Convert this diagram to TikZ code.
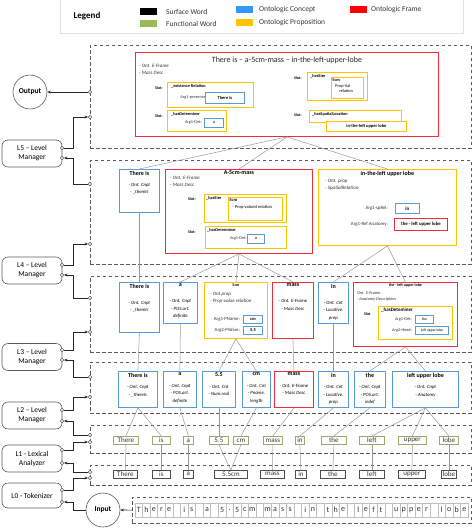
\documentclass[tikz,border=0pt]{standalone}
\usepackage{fontspec}
\setmainfont{Carlito}
\usetikzlibrary{calc,arrows.meta}

\definecolor{cblue}{RGB}{91,155,213}
\definecolor{cred}{RGB}{232,48,58}
\definecolor{cyellow}{RGB}{255,196,0}
\definecolor{cgreen}{RGB}{150,172,110}
\definecolor{cgray}{RGB}{90,90,90}
\definecolor{legreen}{RGB}{155,187,89}
\definecolor{leblue}{RGB}{51,153,255}

\tikzstyle{panel} = [rectangle, draw=cgray, dash pattern=on 3.5pt off 2.5pt, line width=0.7pt, anchor=north west, inner sep=0pt]
\tikzstyle{manager} = [rectangle, rounded corners=6pt, draw=cgray, line width=0.6pt, minimum width=60pt, minimum height=27pt, align=center, font=\fontsize{7.5}{9}\selectfont]
\tikzstyle{port} = [circle, draw=cgray, fill=white, line width=0.5pt, minimum size=3.4pt, inner sep=0pt]
\tikzstyle{flow} = [draw=black!85, line width=0.6pt, -{Stealth[length=3.5pt,width=2.8pt]}]
\tikzstyle{link} = [draw=black!40, line width=0.5pt]
\tikzstyle{concept} = [rectangle, draw=cblue, line width=0.8pt, fill=white, inner sep=0pt, anchor=north west, font=\bfseries\fontsize{4.5}{5}\selectfont]
\tikzstyle{frame} = [concept, draw=cred, line width=0.9pt]
\tikzstyle{prop} = [concept, draw=cyellow, line width=0.9pt]
\tikzstyle{funcword} = [rectangle, draw=cgreen, line width=0.8pt, anchor=north west, inner sep=0pt, text=black!80, font=\fontsize{7}{8}\selectfont]
\tikzstyle{surfword} = [funcword, draw=black!70]
\tikzstyle{desc} = [anchor=north west, align=left, inner sep=0pt, text=black!80, font=\itshape\fontsize{5}{7}\selectfont]
\tikzstyle{slotlab} = [anchor=west, inner sep=0pt, font=\bfseries\fontsize{4}{5}\selectfont]
\tikzstyle{ptitle} = [anchor=north west, inner sep=0pt, font=\bfseries\fontsize{4.3}{5}\selectfont]
\tikzstyle{arglab} = [anchor=east, inner sep=0pt, text=black!80, font=\fontsize{4.3}{5}\selectfont]
\tikzstyle{swatch} = [rectangle, minimum width=17pt, minimum height=7pt, inner sep=0pt, anchor=north west]
\tikzstyle{legtext} = [anchor=west, inner sep=0pt, text=black!80, font=\fontsize{7.5}{9}\selectfont]
\tikzstyle{cell} = [rectangle, draw=black!25, line width=0.5pt, minimum width=7.57pt, minimum height=14pt, inner sep=0pt, text=black!80, font=\fontsize{8}{9}\selectfont]

\newcommand\boxtext[3]{\parbox[c][#2][t]{#1}{\centering\vspace*{1.5pt}#3}}
\newcommand\ttl{\bfseries\fontsize{6}{7}\selectfont}
\newcommand\dsc{\mdseries\itshape\fontsize{4.8}{7.5}\selectfont}

\begin{document}
\begin{tikzpicture}[x=1pt, y=-1pt]
    \useasboundingbox (0,0) rectangle (474,528);

    % legend
    \node (legendbox) [rectangle, draw=black!12, line width=1pt, anchor=north west, minimum width=403pt, minimum height=35pt] at (60,-2) {};
    \node (legendtitle) [font=\bfseries\fontsize{9}{10}\selectfont] at (87,16) {Legend};
    \node (swsurf) [swatch, fill=black] at (140,8) {};
    \node (txsurf) [legtext] at (166,11.5) {Surface Word};
    \node (swfunc) [swatch, fill=legreen] at (140,20) {};
    \node (txfunc) [legtext] at (166,23.5) {Functional Word};
    \node (swcpt) [swatch, fill=leblue] at (236,6) {};
    \node (txcpt) [legtext] at (259,9.5) {Ontologic Concept};
    \node (swprop) [swatch, fill=cyellow] at (236,19) {};
    \node (txprop) [legtext] at (259,22.5) {Ontologic Proposition};
    \node (swfrm) [swatch, fill=red] at (350,6) {};
    \node (txfrm) [legtext] at (371,9.5) {Ontologic Frame};

    % level panels
    \node (panel1) [panel, minimum width=381pt, minimum height=103pt] at (90,45) {};
    \node (panel2) [panel, minimum width=381pt, minimum height=104pt] at (90,160) {};
    \node (panel3) [panel, minimum width=381pt, minimum height=76pt] at (90,276) {};
    \node (panel4) [panel, minimum width=381pt, minimum height=51pt] at (90,362) {};
    \node (panel5) [panel, minimum width=381pt, minimum height=28pt] at (90,425) {};
    \node (panel6) [panel, minimum width=381pt, minimum height=20pt] at (90,465) {};
    \node (panelin) [panel, minimum width=339pt, minimum height=26pt] at (132,497) {};

    % managers
    \node (output) [circle, draw=cgray, line width=0.6pt, minimum size=34pt, inner sep=0pt, font=\bfseries\fontsize{7.5}{9}\selectfont] at (30,92) {Output};
    \node (input) [circle, draw=cgray, line width=0.6pt, minimum size=34pt, inner sep=0pt, font=\bfseries\fontsize{7.5}{9}\selectfont] at (103,510) {Input};
    \node (l5) [manager] at (32,153.5) {L5 – Level\\Manager};
    \node (l4) [manager] at (32,270.5) {L4 – Level\\Manager};
    \node (l3) [manager] at (32,357) {L3 – Level\\Manager};
    \node (l2) [manager] at (32,415.5) {L2 – Level\\Manager};
    \node (l1) [manager] at (32,458.5) {L1 - Lexical\\Analyzer};
    \node (l0) [manager, minimum height=25pt] at (32,495.5) {L0 - Tokenizer};

    % ports
    \node (l5out) [port] at (62,148) {};
    \node (l5in) [port] at (62,158) {};
    \node (l4out) [port] at (62,265) {};
    \node (l4in) [port] at (62,275) {};
    \node (l3out) [port] at (62,350) {};
    \node (l3in) [port] at (62,360) {};
    \node (l2out) [port] at (62,410) {};
    \node (l2in) [port] at (62,421) {};
    \node (l1out) [port] at (62,450) {};
    \node (l1in) [port] at (62,463) {};
    \node (l0out) [port] at (62,490) {};
    \node (l0in) [port] at (62,502) {};
    \node (p1out) [port] at (90,92) {};
    \node (p1l5) [port] at (90,117) {};
    \node (p2l5) [port] at (90,184) {};
    \node (p2l4) [port] at (90,244) {};
    \node (p3l4) [port] at (90,298) {};
    \node (p3l3) [port] at (90,332) {};
    \node (p4l3) [port] at (90,377) {};
    \node (p4l2) [port] at (90,397) {};
    \node (p5l2) [port] at (90,435) {};
    \node (p5l1) [port] at (90,442) {};
    \node (p6l1) [port] at (90,472) {};
    \node (p6l0) [port] at (90,478) {};

    \draw [flow] (p1out) -- (output);
    \draw [flow] (l5out) -- ++(11,0) |- (p1l5);
    \draw [flow] (p2l5) -- ++(-17,0) |- (l5in);
    \draw [flow] (l4out) -- ++(11,0) |- (p2l4);
    \draw [flow] (p3l4) -- ++(-17,0) |- (l4in);
    \draw [flow] (l3out) -- ++(11,0) |- (p3l3);
    \draw [flow] (p4l3) -- ++(-17,0) |- (l3in);
    \draw [flow] (l2out) -- ++(11,0) |- (p4l2);
    \draw [flow] (p5l2) -- ++(-17,0) |- (l2in);
    \draw [flow] (l1out) -- ++(11,0) |- (p5l1);
    \draw [flow] (p6l1) -- ++(-17,0) |- (l1in);
    \draw [flow] (l0out) -- ++(11,0) |- (p6l0);
    \draw [flow] (input) -- ++(-30,0) |- (l0in);
    \draw [flow] (panelin) -- (input);

    % L5 output frame
    \node (outframe) [frame, minimum width=303pt, minimum height=84pt] at (135,52) {};
    \node (outtitle) [inner sep=0pt, text=black!85, font=\fontsize{8}{9}\selectfont] at (287,60) {There is – a-5cm-mass – in-the-left-upper-lobe};
    \node (outdesc) [desc] at (139,64) {- Ont. E-Frame\\- Mass Desc};
    \node (slotex) [slotlab] at (155,88) {Slot:};
    \node (propex) [prop, minimum width=86pt, minimum height=25pt] at (167,82) {};
    \node (propextitle) [ptitle] at (171,84) {\_existence Relation};
    \node (argex) [arglab] at (206,97.5) {Arg1-presence};
    \node (cptthere) [concept, minimum width=39pt, minimum height=11pt] at (205,92) {There is};
    \node (slotdet) [slotlab] at (155,116) {Slot:};
    \node (propdet) [prop, minimum width=59pt, minimum height=21pt] at (167,110) {};
    \node (propdettitle) [ptitle] at (171,112) {\_hasDeterminer};
    \node (argdet) [arglab] at (202,122.5) {Arg1-Det:};
    \node (cpta) [concept, minimum width=19pt, minimum height=9pt, font=\fontsize{4.5}{5}\selectfont] at (204,118) {a};
    \node (slotsize) [slotlab] at (294,78) {Slot:};
    \node (propsize) [prop, minimum width=60pt, minimum height=28pt] at (307,72) {};
    \node (propsizetitle) [ptitle] at (310,74) {\_hasSize};
    \node (propsizein) [prop, font=\fontsize{4.3}{5.5}\selectfont] at (331,77) {\boxtext{32pt}{21pt}{\raggedright\hspace*{1pt}\textbf{5cm}\\\mdseries\hspace*{4pt}Prop-Val\\\hspace*{8pt}relation}};
    \node (slotloc) [slotlab] at (294,115) {Slot:};
    \node (proploc) [prop, minimum width=92pt, minimum height=12pt] at (309,110) {};
    \node (proploctitle) [ptitle] at (312,112) {\_hasSpatialLocation};
    \node (cptloc) [prop, minimum width=80pt, minimum height=10pt] at (326,121) {in-the-left upper lobe};

    % L4 results
    \node (p2there) [concept] at (119,169) {\boxtext{40pt}{43pt}{\ttl There is\\[3.5pt]\dsc - Ont. Cnpt\\- \_thereIs}};
    \node (p2mass) [frame, minimum width=147pt, minimum height=84pt] at (165,169) {\boxtext{147pt}{84pt}{\ttl A-5cm-mass}};
    \node (p2massdesc) [desc] at (170,176) {- Ont. E-Frame\\- Mass Desc};
    \node (sl2size) [slotlab] at (188,199) {Slot:};
    \node (pr2size) [prop, minimum width=82pt, minimum height=28pt] at (204,194) {};
    \node (pr2sizetitle) [ptitle] at (206,196) {\_hasSize};
    \node (pr2sizein) [prop, font=\fontsize{4.5}{6}\selectfont] at (228,197) {\boxtext{54pt}{23pt}{\raggedright\hspace*{1pt}\textbf{5cm}\\[1pt]\mdseries\hspace*{4pt}- Prop-valued relation}};
    \node (sl2det) [slotlab] at (188,232) {Slot:};
    \node (pr2det) [prop, minimum width=81pt, minimum height=22pt] at (205,226) {};
    \node (pr2dettitle) [ptitle] at (207,228) {\_hasDeterminer};
    \node (arg2det) [arglab] at (247,238.5) {Arg1-Det:};
    \node (cpt2a) [concept, minimum width=17pt, minimum height=9pt, font=\fontsize{4.5}{5}\selectfont] at (247,234) {a};
    \node (p2lul) [prop, minimum width=138pt, minimum height=76pt] at (318,169) {\boxtext{138pt}{76pt}{\ttl in-the-left upper lobe}};
    \node (p2luldesc) [desc] at (325,179) {- Ont. prop\\- SpatialRelation:};
    \node (arg2sp) [arglab, font=\fontsize{4.8}{5}\selectfont] at (388,208) {Arg1-spRel:};
    \node (cpt2in) [concept, minimum width=24pt, minimum height=10pt, font=\bfseries\fontsize{5}{6}\selectfont] at (395,203) {in};
    \node (arg2ref) [arglab, font=\fontsize{4.8}{5}\selectfont] at (388,224) {Arg1-Ref Anatomy:};
    \node (frm2lul) [frame, minimum width=53pt, minimum height=12pt, font=\bfseries\fontsize{4.8}{6}\selectfont] at (394,218) {the - left upper lobe};

    % L3 results
    \node (p3there) [concept] at (119,282) {\boxtext{40pt}{50pt}{\ttl There is\\[8.5pt]\dsc - Ont. Cnpt\\- \_thereIs}};
    \node (p3a) [concept] at (163,282) {\boxtext{34pt}{41pt}{\ttl a\\[8.5pt]\dsc - Ont. Cnpt\\- POS.art.\\definite}};
    \node (p3size) [prop] at (204,282) {\boxtext{63pt}{56pt}{\bfseries\fontsize{4}{5}\selectfont 5cm}};
    \node (p3sizedesc) [desc] at (210,292) {- Ont.prop\\- Prop-value relation};
    \node (arg3name) [arglab, font=\fontsize{4.8}{5}\selectfont] at (240,319) {Arg1-PName:};
    \node (cpt3cm) [concept, minimum width=19pt, minimum height=8pt] at (243,315) {cm};
    \node (arg3val) [arglab, font=\fontsize{4.8}{5}\selectfont] at (240,330) {Arg2-PValue:};
    \node (cpt3num) [concept, minimum width=19pt, minimum height=8pt] at (243,326) {5.5};
    \node (p3mass) [frame] at (272,282) {\boxtext{41pt}{56pt}{\ttl mass\\[8.5pt]\dsc - Ont. E-Frame\\- Mass Desc}};
    \node (p3in) [concept] at (318,282) {\boxtext{30pt}{41pt}{\ttl in\\[8.5pt]\dsc - Ont. Cnt\\- Locative.\\prep}};
    \node (p3lul) [frame] at (353,282) {\boxtext{104pt}{64pt}{\bfseries\fontsize{4}{5}\selectfont the - left upper lobe}};
    \node (p3luldesc) [desc, font=\itshape\fontsize{4.3}{6}\selectfont] at (357,292) {Ont. E-Frame\\- Anatomy Description};
    \node (sl3det) [slotlab] at (364,314) {Slot};
    \node (pr3det) [prop, minimum width=74pt, minimum height=33pt] at (378,306) {};
    \node (pr3dettitle) [ptitle, font=\bfseries\fontsize{5}{6}\selectfont] at (381,308) {\_hasDeteminer};
    \node (arg3det) [arglab] at (412,319) {Arg1-Det:};
    \node (cpt3the) [concept, minimum width=18pt, minimum height=8pt, font=\fontsize{3.8}{5}\selectfont] at (415,315) {the};
    \node (arg3head) [arglab] at (412,330) {Arg2-Head:};
    \node (cpt3lul) [concept, minimum width=33pt, minimum height=8pt, font=\fontsize{3.6}{5}\selectfont] at (415,326) {Left upper lobe};

    % L2 results
    \node (p4there) [concept] at (118,371) {\boxtext{39pt}{36pt}{\ttl There is\\[4pt]\dsc - Ont. Cnpt\\- \_thereIs}};
    \node (p4a) [concept] at (163,371) {\boxtext{33pt}{36pt}{\ttl a\\[4pt]\dsc - Ont. Cnpt\\- POS.art.\\definite}};
    \node (p4num) [concept] at (202,371) {\boxtext{33pt}{36pt}{\ttl 5.5\\[4pt]\dsc - Ont. Cnt\\- Num.real}};
    \node (p4cm) [concept] at (242,371) {\boxtext{28pt}{36pt}{\ttl cm\\[4pt]\dsc - Ont. Cnt\\- Pname.\\length}};
    \node (p4mass) [frame] at (274,371) {\boxtext{39pt}{36pt}{\ttl mass\\[4pt]\dsc - Ont. E-Frame\\- Mass Desc}};
    \node (p4in) [concept] at (318,371) {\boxtext{30pt}{36pt}{\ttl in\\[4pt]\dsc - Ont. Cnt\\- Locative.\\prep}};
    \node (p4the) [concept] at (354,371) {\boxtext{31pt}{36pt}{\ttl the\\[4pt]\dsc - Ont. Cnpt\\- POS.art.\\indef}};
    \node (p4lul) [concept] at (392,371) {\boxtext{66pt}{36pt}{\ttl left upper lobe\\[4pt]\dsc - Ont. Cnpt\\- Anatomy}};

    % L1 results
    \node (w5there) [funcword, minimum width=25pt, minimum height=8pt] at (113,436) {There};
    \node (w5is) [funcword, minimum width=18pt, minimum height=8pt] at (152,436) {is};
    \node (w5a) [funcword, minimum width=10pt, minimum height=8pt] at (183,436) {a};
    \node (w5num) [funcword, minimum width=19pt, minimum height=8pt] at (209,436) {5.5};
    \node (w5cm) [funcword, minimum width=15pt, minimum height=8pt] at (233,436) {cm};
    \node (w5mass) [funcword, minimum width=19pt, minimum height=8pt] at (263,436) {mass};
    \node (w5in) [funcword, minimum width=9pt, minimum height=8pt] at (295,436) {in};
    \node (w5the) [funcword, minimum width=25pt, minimum height=8pt] at (321,436) {the};
    \node (w5left) [funcword, minimum width=25pt, minimum height=8pt] at (359,436) {left};
    \node (w5upper) [funcword, minimum width=28pt, minimum height=8pt] at (398,436) {upper};
    \node (w5lobe) [funcword, minimum width=19pt, minimum height=8pt] at (439,436) {lobe};

    % L0 results
    \node (w6there) [surfword, minimum width=24pt, minimum height=7.5pt] at (113,470) {There};
    \node (w6is) [surfword, minimum width=18pt, minimum height=7.5pt] at (152,470) {is};
    \node (w6a) [surfword, minimum width=10pt, minimum height=7.5pt] at (183,470) {a};
    \node (w6num) [surfword, minimum width=33pt, minimum height=7.5pt] at (214,470) {5.5cm};
    \node (w6mass) [surfword, minimum width=24pt, minimum height=7.5pt] at (260,470) {mass};
    \node (w6in) [surfword, minimum width=11pt, minimum height=7.5pt] at (295,470) {in};
    \node (w6the) [surfword, minimum width=25pt, minimum height=7.5pt] at (320,470) {the};
    \node (w6left) [surfword, minimum width=25pt, minimum height=7.5pt] at (359,470) {left};
    \node (w6upper) [surfword, minimum width=27pt, minimum height=7.5pt] at (398,470) {upper};
    \node (w6lobe) [surfword, minimum width=15pt, minimum height=7.5pt] at (441,470) {lobe};

    % input characters
    \foreach \ch [count=\i from 0] in {T,h,e,r,e,{},i,s,{},a,{},5,.,5,c,m,{},m,a,s,s,{},i,n,{},t,h,e,{},l,e,f,t,{},u,p,p,e,r,{},l,o,b,e}
        \node (char\i) [cell] at (138.8+\i*7.57,510) {\ch};

    % links between levels
    \draw [link] (outframe.south) -- (p2there.north);
    \draw [link] (outframe.south) -- (p2mass.north);
    \draw [link] (outframe.south) -- (p2lul.north);
    \draw [link] (p2there.south) -- (p3there.north);
    \draw [link] (p2mass.south) -- (p3a.north);
    \draw [link] (p2mass.south) -- (p3size.north);
    \draw [link] (p2mass.south) -- (p3mass.north);
    \draw [link] (p2lul.south) -- (p3in.north);
    \draw [link] (p2lul.south) -- (p3lul.north);
    \draw [link] (p3there.south) -- (p4there.north);
    \draw [link] (p3a.south) -- (p4a.north);
    \draw [link] (p3size.south) -- (p4num.north);
    \draw [link] (p3size.south) -- (p4cm.north);
    \draw [link] (p3mass.south) -- (p4mass.north);
    \draw [link] (p3in.south) -- (p4in.north);
    \draw [link] (p3lul.south) -- (p4the.north);
    \draw [link] (p3lul.south) -- (p4lul.north);
    \draw [link] (p4there.south) -- (w5there.north);
    \draw [link] (p4there.south) -- (w5is.north);
    \draw [link] (p4a.south) -- (w5a.north);
    \draw [link] (p4num.south) -- (w5num.north);
    \draw [link] (p4cm.south) -- (w5cm.north);
    \draw [link] (p4mass.south) -- (w5mass.north);
    \draw [link] (p4in.south) -- (w5in.north);
    \draw [link] (p4the.south) -- (w5the.north);
    \draw [link] (p4lul.south) -- (w5left.north);
    \draw [link] (p4lul.south) -- (w5upper.north);
    \draw [link] (p4lul.south) -- (w5lobe.north);
    \draw [link] (w5there.south) -- (w6there.north);
    \draw [link] (w5is.south) -- (w6is.north);
    \draw [link] (w5a.south) -- (w6a.north);
    \draw [link] (w5num.south) -- (w6num.north);
    \draw [link] (w5cm.south) -- (w6num.north);
    \draw [link] (w5mass.south) -- (w6mass.north);
    \draw [link] (w5in.south) -- (w6in.north);
    \draw [link] (w5the.south) -- (w6the.north);
    \draw [link] (w5left.south) -- (w6left.north);
    \draw [link] (w5upper.south) -- (w6upper.north);
    \draw [link] (w5lobe.south) -- (w6lobe.north);
\end{tikzpicture}
\end{document}
